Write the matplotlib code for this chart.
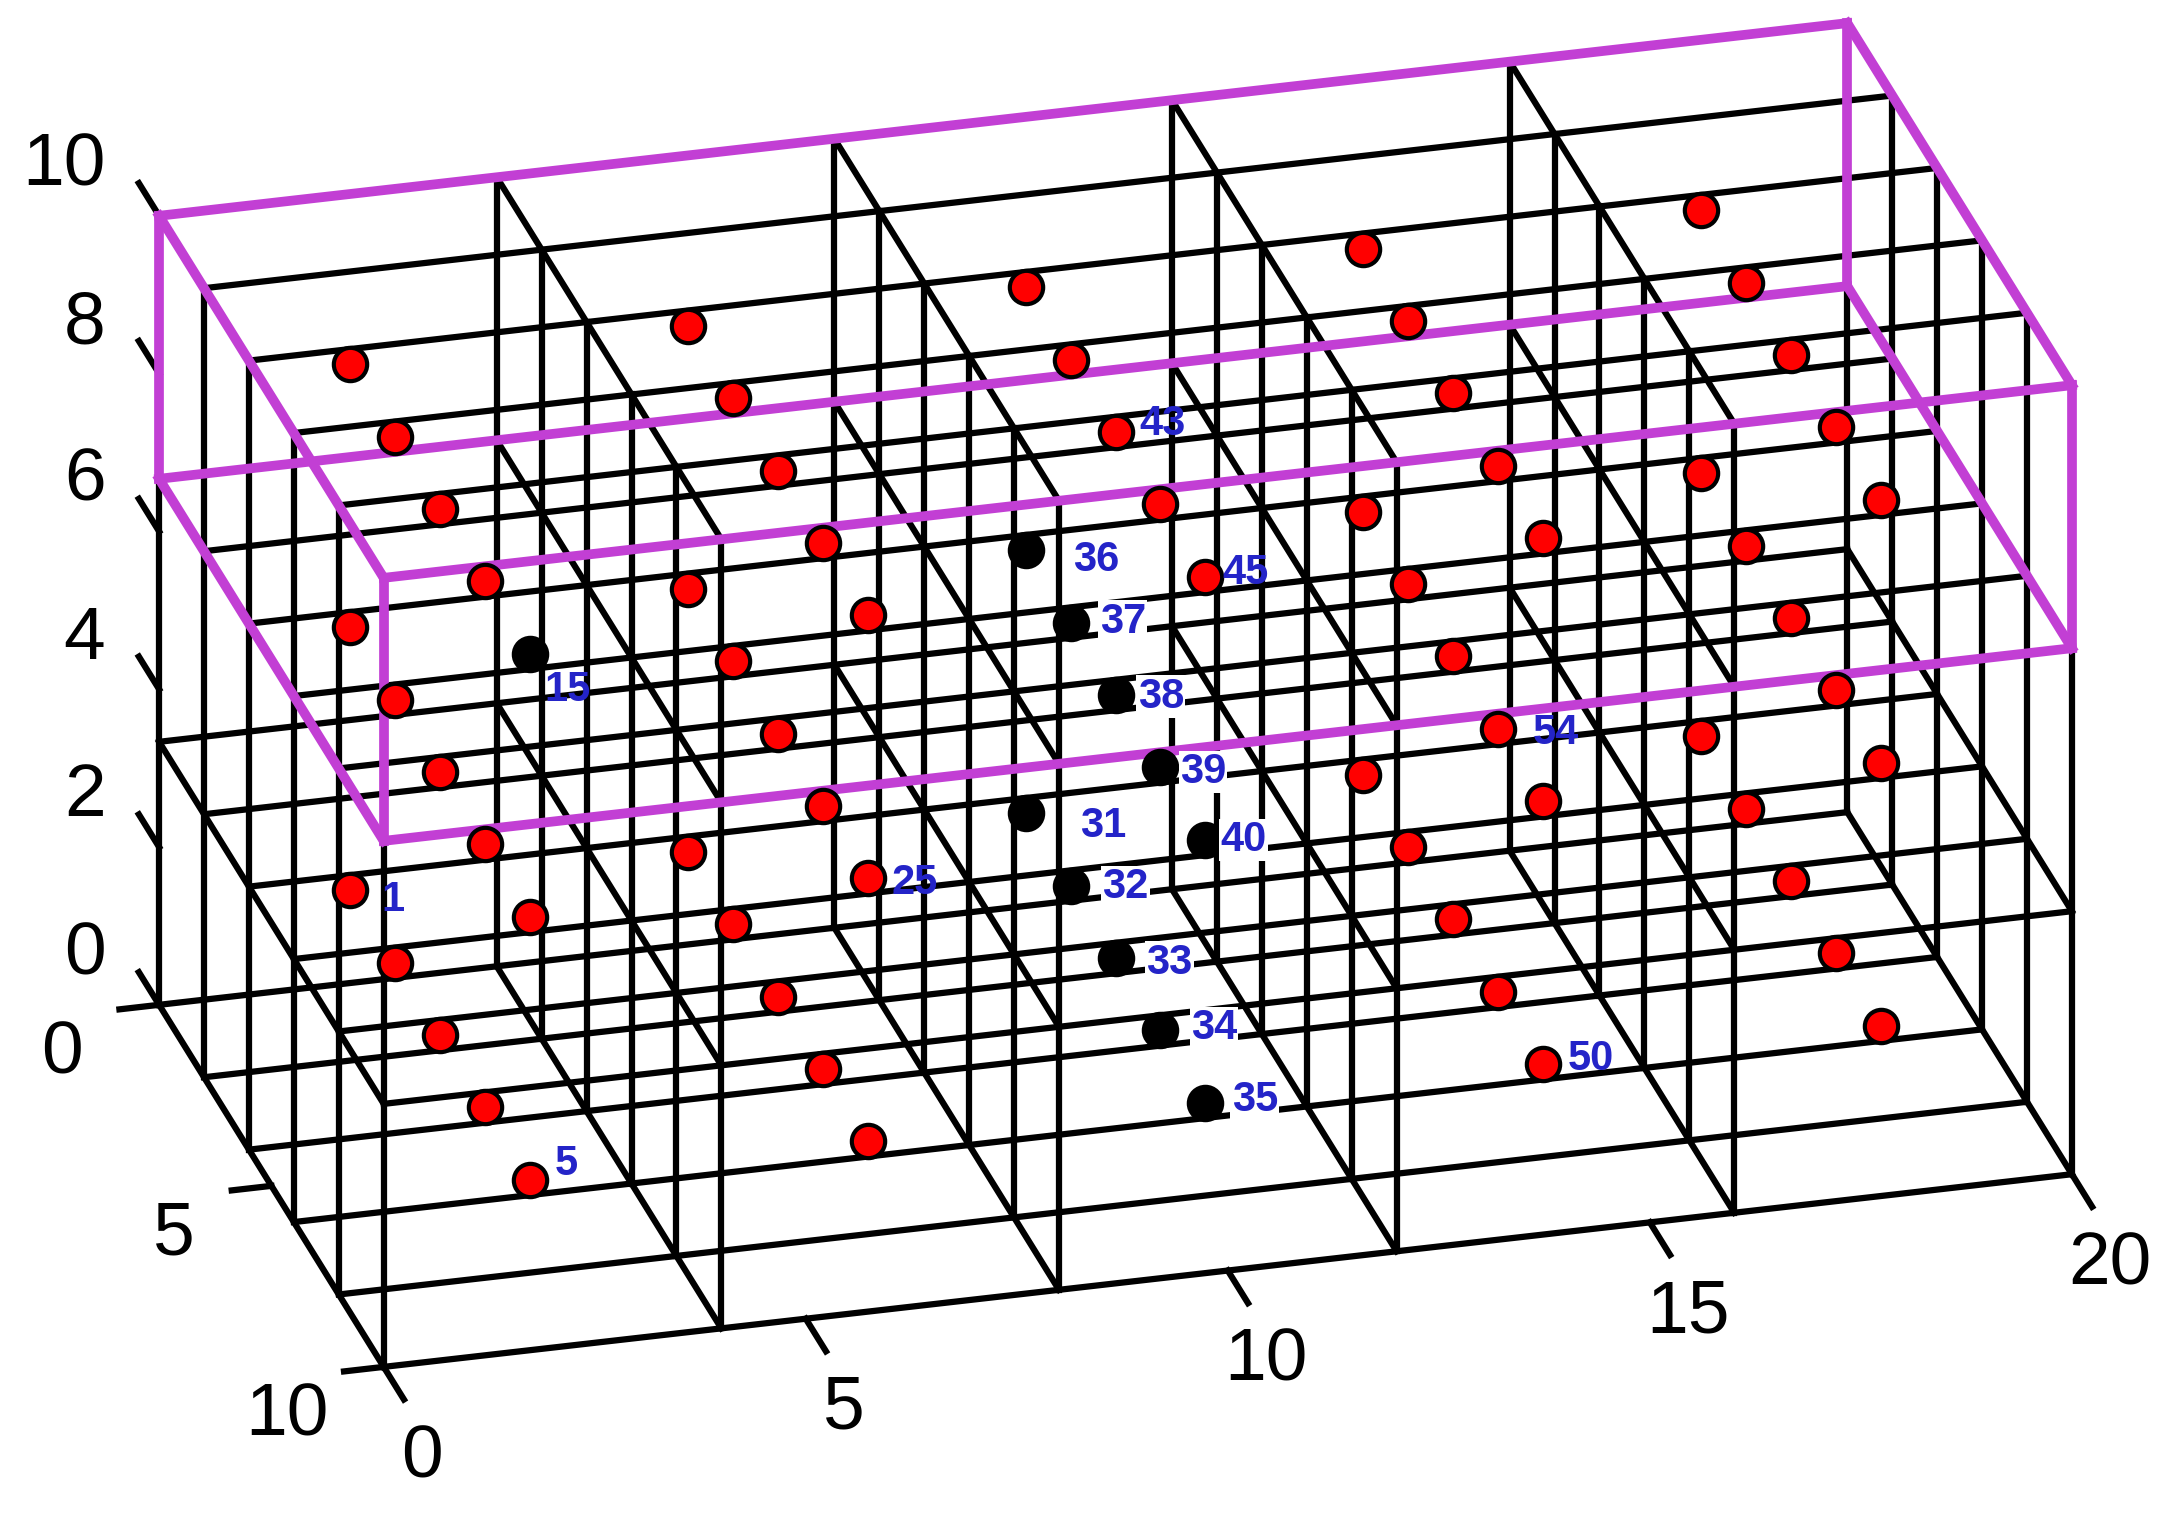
import numpy as np
import matplotlib
matplotlib.use("Agg")
import matplotlib.pyplot as plt
from matplotlib import transforms
from mpl_toolkits.mplot3d import proj3d
from itertools import product, combinations

# lattice of the model
x_planes = [0, 4, 8, 12, 16, 20]
y_planes = [0, 2, 4, 6, 8, 10]
z_planes = [0, 10 / 3, 20 / 3, 10]

# sensor positions: 5 columns x 3 levels x 5 rows, numbered 1..75
x_sensor = [2, 6, 10, 14, 18]
z_sensor = [5 / 3, 5, 25 / 3]
y_sensor = [1, 3, 5, 7, 9]

black_ids = [15, 31, 32, 33, 34, 35, 36, 37, 38, 39, 40]
label_ids = [1, 5, 15, 25, 31, 32, 33, 34, 35, 36, 37, 38, 39, 40, 43, 45, 50, 54]

# highlighted top layer
box_x = [0, 20]
box_y = [0, 10]
box_z = [20 / 3, 10]

x_ticks = [0, 5, 10, 15, 20]
y_ticks = [0, 5, 10]
z_ticks = [0, 2, 4, 6, 8, 10]

ids, sx, sy, sz = [], [], [], []
n = 1
for xs in x_sensor:
    for zs in z_sensor:
        for ys in y_sensor:
            ids.append(n)
            sx.append(xs)
            sy.append(ys)
            sz.append(zs)
            n += 1
ids, sx, sy, sz = map(np.array, (ids, sx, sy, sz))

fig = plt.figure(figsize=(21.6, 15.13), dpi=100, facecolor="white")
ax = fig.add_axes([0.05, 0.05, 0.9, 0.9], projection="3d", proj_type="ortho")
ax.computed_zorder = False
ax.set_axis_off()
ax.set_xlim(0, 20)
ax.set_ylim(10, 0)
ax.set_zlim(0, 10)
ax.set_box_aspect((20, 10, 10))
ax.view_init(elev=25.4, azim=-104.9)

grid_kw = dict(color="black", lw=4.5, zorder=1)
for y in y_planes:
    for z in z_planes:
        ax.plot([x_planes[0], x_planes[-1]], [y, y], [z, z], **grid_kw)
for x in x_planes:
    for z in z_planes:
        ax.plot([x, x], [y_planes[0], y_planes[-1]], [z, z], **grid_kw)
    for y in y_planes:
        ax.plot([x, x], [y, y], [z_planes[0], z_planes[-1]], **grid_kw)

# magenta box around the upper layer
corners = list(product(box_x, box_y, box_z))
for p, q in combinations(corners, 2):
    if sum(a != b for a, b in zip(p, q)) == 1:
        ax.plot(*zip(p, q), color="#C23FD4", lw=7, zorder=2)

is_black = np.isin(ids, black_ids)
ax.plot(sx[~is_black], sy[~is_black], sz[~is_black], "o", ms=24,
        mfc="red", mec="black", mew=3, zorder=3)
ax.plot(sx[is_black], sy[is_black], sz[is_black], "o", ms=24,
        mfc="black", mec="black", mew=3, zorder=3)

# texts are placed at the projected position of their 3D anchor
M = ax.get_proj()


def put_text(x, y, z, s, dx=0, dy=0, **kw):
    px, py, _ = proj3d.proj_transform(x, y, z, M)
    tr = transforms.offset_copy(ax.transData, fig=fig, x=dx, y=dy, units="points")
    return ax.text2D(px, py, s, transform=tr, **kw)


# label offsets in points (right, up)
label_offset = {1: (22, -4), 5: (18, 15), 15: (10, -23), 25: (17, 0),
                31: (39, -6), 32: (23, 2), 33: (22, 0), 34: (22, 5),
                35: (19, 5), 36: (34, -4), 37: (21, 4), 38: (16, 2),
                39: (14, 0), 40: (11, 3), 43: (17, 9), 45: (12, 6),
                50: (18, 7), 54: (25, 0)}
for lid in label_ids:
    k = np.where(ids == lid)[0][0]
    dx, dy = label_offset[lid]
    bbox = dict(facecolor="white", edgecolor="none", pad=1) if 31 <= lid <= 40 else None
    put_text(sx[k], sy[k], sz[k], str(lid), dx, dy, ha="left", va="center_baseline",
             fontsize=30, fontweight="bold", color="#2424C8",
             family="Liberation Sans", bbox=bbox, zorder=4)

# axes: ticks and labels
tick_kw = dict(color="black", lw=4.5, zorder=1)
lab_kw = dict(fontsize=54, family="Liberation Sans", color="black", zorder=4)
for t in x_ticks:
    ax.plot([t, t], [10, 10.9], [0, 0], **tick_kw)
    put_text(t, 11.7, -0.37, str(t), ha="center", va="center", **lab_kw)
for t in y_ticks:
    ax.plot([0, -0.47], [t, t], [0, 0], **tick_kw)
    put_text(-1.15, t, -0.48, str(t), ha="center", va="center", **lab_kw)
for t in z_ticks:
    ax.plot([0, 0], [0, -0.9], [t, t], **tick_kw)
    put_text(-0.25, -1.45, t, str(t), ha="right", va="center", **lab_kw)

# fit the box into the frame: corner (0,0,10) and corner (20,10,0)
fig.canvas.draw()


def to_px(x, y, z):
    px, py, _ = proj3d.proj_transform(x, y, z, ax.get_proj())
    return ax.transData.transform((px, py))


p1, p2 = to_px(0, 0, 10), to_px(20, 10, 0)
t1, t2 = np.array([158.0, 1295.0]), np.array([2073.0, 341.0])
s = np.linalg.norm(t2 - t1) / np.linalg.norm(p2 - p1)
W, H = fig.bbox.width, fig.bbox.height
bb = ax.get_position()
c = np.array([(bb.x0 + bb.width / 2) * W, (bb.y0 + bb.height / 2) * H])
c_new = (t1 + t2) / 2 - s * ((p1 + p2) / 2 - c)
w_new, h_new = bb.width * s, bb.height * s
ax.set_position([c_new[0] / W - w_new / 2, c_new[1] / H - h_new / 2, w_new, h_new])

fig.savefig("out.png", dpi=100, facecolor="white")
